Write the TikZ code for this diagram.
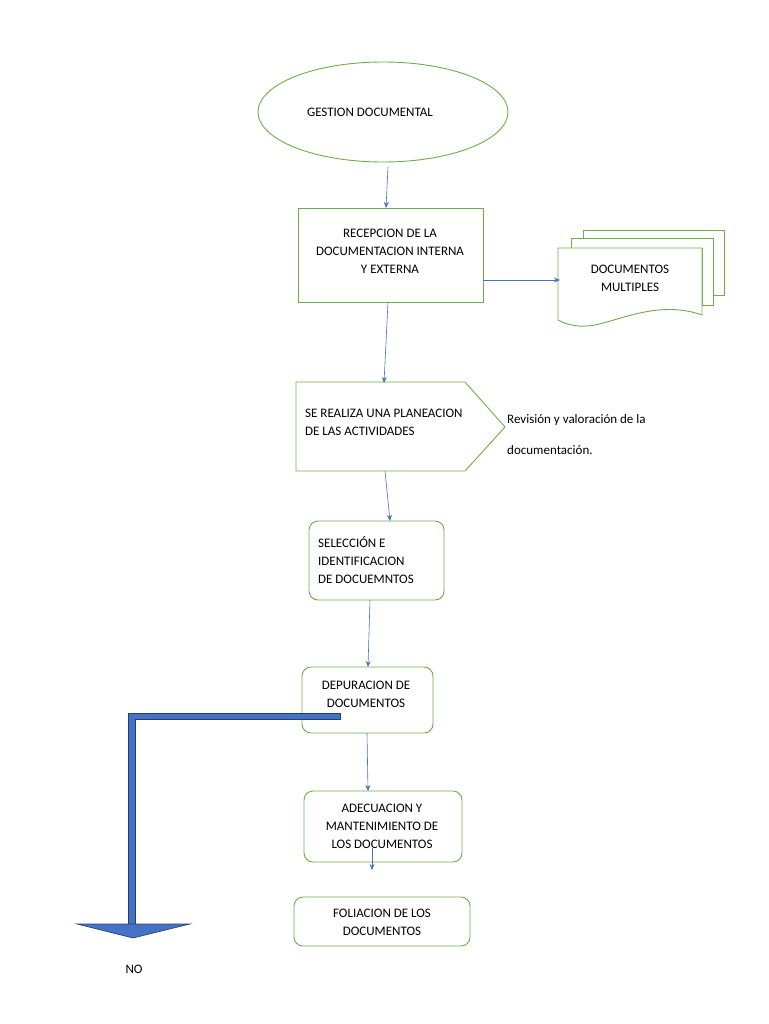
\documentclass[tikz,border=0pt]{standalone}
\usepackage{fontspec}
\setmainfont{Carlito}
\usetikzlibrary{arrows.meta}
\definecolor{gr}{HTML}{70AD47}
\definecolor{bl}{HTML}{4472C4}
\begin{document}
\begin{tikzpicture}[x=1pt,y=-1pt,font=\fontsize{13}{18}\selectfont,
 box/.style={draw=gr,line width=0.9pt,fill=white},
 rbox/.style={box,rounded corners=9pt},
 arr/.style={draw=bl,line width=0.6pt,-{Stealth[length=6pt,width=5pt]}},
 lab/.style={align=center,inner sep=0}]
\useasboundingbox (0,0) rectangle (768,1024);
% ellipse
\draw[box] (383,112) ellipse [x radius=125,y radius=50];
\node[lab] (g) at (370,112) {GESTION DOCUMENTAL};
\coordinate (gB) at (388,167);
% reception
\draw[box] (298,208) rectangle (483,302);
\node[lab] (r) at (390,251) {RECEPCION DE LA\\DOCUMENTACION INTERNA\\Y EXTERNA};
\coordinate (rT) at (386,208);\coordinate (rR) at (483,280);\coordinate (rB) at (388,302);
% multi docs
\draw[box] (583,230) -- (724,230) -- (724,295) -- (713,295) -- (713,238) -- (583,238) -- cycle;
\draw[box] (571,238) -- (713,238) -- (713,305) -- (702,305) -- (702,248) -- (571,248) -- cycle;
\draw[box] (558,248) -- (702,248) -- (702,315) .. controls (660,300) and (620,320) .. (595,325) .. controls (580,328) and (567,325) .. (558,320) -- cycle;
\node[lab] (m) at (630,278) {DOCUMENTOS\\MULTIPLES};
\coordinate (mL) at (560,280);
% pentagon
\draw[box] (296,382) -- (465,382) -- (505,427) -- (465,471) -- (296,471) -- cycle;
\node[lab,align=left,anchor=west] (p) at (305,422) {SE REALIZA UNA PLANEACION\\DE LAS ACTIVIDADES};
\coordinate (pT) at (384,383);\coordinate (pB) at (385,471);
\node[anchor=west,inner sep=0] (t1) at (507,420) {Revisión y valoración de la};
\node[anchor=west,inner sep=0] (t2) at (507,450) {documentación.};
% seleccion
\draw[rbox] (309,521) rectangle (444,600);
\node[lab,align=left,anchor=west] (s) at (318,560) {SELECCIÓN E\\IDENTIFICACION\\DE DOCUEMNTOS};
\coordinate (sT) at (390,521);\coordinate (sB) at (370,600);
% depuracion
\draw[rbox] (302,667) rectangle (433,733);
\node[lab] (d) at (366,694) {DEPURACION DE\\DOCUMENTOS};
\coordinate (dT) at (368,667);\coordinate (dB) at (367,733);
% NO branch
\fill[bl,draw=bl!55!black,line width=0.6pt] (340,713) -- (128,713) -- (128,925) -- (135,925) -- (135,719) -- (340,719) -- cycle;
\fill[bl,draw=bl!55!black,line width=0.6pt] (77,924) -- (190,924) -- (133,938) -- cycle;
\node[lab] (no) at (134,969) {NO};
% adecuacion
\draw[rbox] (304,791) rectangle (462,862);
\node[lab] (a) at (382,826) {ADECUACION Y\\MANTENIMIENTO DE\\LOS DOCUMENTOS};
\coordinate (aT) at (368,791);\coordinate (aS) at (372,848);\coordinate (aE) at (372,870);
% foliacion
\draw[rbox] (294,897) rectangle (470,946);
\node[lab] (f) at (382,922) {FOLIACION DE LOS\\DOCUMENTOS};
% arrows
\draw[arr] (gB) -- (rT);
\draw[arr] (rR) -- (mL);
\draw[arr] (rB) -- (pT);
\draw[arr] (pB) -- (sT);
\draw[arr] (sB) -- (dT);
\draw[arr] (dB) -- (aT);
\draw[arr] (aS) -- (aE);
\end{tikzpicture}
\end{document}
